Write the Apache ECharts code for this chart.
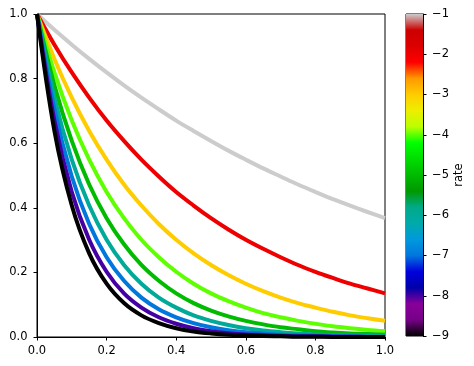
<!DOCTYPE html>
<html>
<head>
<meta charset="utf-8">
<script src="https://cdn.jsdelivr.net/npm/echarts@6/dist/echarts.min.js"></script>
<style>html,body{margin:0;padding:0;background:#fff;}#c{width:474px;height:366px;}</style>
</head>
<body>
<div id="c"></div>
<script>
// x positions
var xs = [0.00,0.05,0.10,0.15,0.20,0.25,0.30,0.35,0.40,0.45,0.50,0.55,0.60,0.65,0.70,0.75,0.80,0.85,0.90,0.95,1.00];
// rates (colour values)
var rates = [-1,-2,-3,-4,-5,-6,-7,-8,-9];
// curve values
var yRate1 = [1.000,0.951,0.905,0.861,0.819,0.779,0.741,0.705,0.670,0.638,0.607,0.577,0.549,0.522,0.497,0.472,0.449,0.427,0.407,0.387,0.368];
var yRate2 = [1.000,0.905,0.819,0.741,0.670,0.607,0.549,0.497,0.449,0.407,0.368,0.333,0.301,0.273,0.247,0.223,0.202,0.183,0.165,0.150,0.135];
var yRate3 = [1.000,0.861,0.741,0.638,0.549,0.472,0.407,0.350,0.301,0.259,0.223,0.192,0.165,0.142,0.122,0.105,0.091,0.078,0.067,0.058,0.050];
var yRate4 = [1.000,0.819,0.670,0.549,0.449,0.368,0.301,0.247,0.202,0.165,0.135,0.111,0.091,0.074,0.061,0.050,0.041,0.033,0.027,0.022,0.018];
var yRate5 = [1.000,0.779,0.607,0.472,0.368,0.287,0.223,0.174,0.135,0.105,0.082,0.064,0.050,0.039,0.030,0.024,0.018,0.014,0.011,0.009,0.007];
var yRate6 = [1.000,0.741,0.549,0.407,0.301,0.223,0.165,0.122,0.091,0.067,0.050,0.037,0.027,0.020,0.015,0.011,0.008,0.006,0.005,0.003,0.002];
var yRate7 = [1.000,0.705,0.497,0.350,0.247,0.174,0.122,0.086,0.061,0.043,0.030,0.021,0.015,0.011,0.007,0.005,0.004,0.003,0.002,0.001,0.001];
var yRate8 = [1.000,0.670,0.449,0.301,0.202,0.135,0.091,0.061,0.041,0.027,0.018,0.012,0.008,0.006,0.004,0.002,0.002,0.001,0.001,0.000,0.000];
var yRate9 = [1.000,0.638,0.407,0.259,0.165,0.105,0.067,0.043,0.027,0.017,0.011,0.007,0.005,0.003,0.002,0.001,0.001,0.000,0.000,0.000,0.000];
var curves = [yRate1,yRate2,yRate3,yRate4,yRate5,yRate6,yRate7,yRate8,yRate9];
// tick labels
var xTicks = [0.0,0.2,0.4,0.6,0.8,1.0];
var cbTicks = [-9,-8,-7,-6,-5,-4,-3,-2,-1];

// styling: nipy_spectral colours
var lineColors = ['rgb(204,204,204)','rgb(238,0,0)','rgb(255,204,0)','rgb(94,255,0)','rgb(0,187,0)','rgb(0,170,153)','rgb(0,119,221)','rgb(68,0,162)','rgb(0,0,0)'];
var cmap = [[0,0,0],[119,0,136],[136,0,153],[0,0,170],[0,0,221],[0,119,221],[0,153,221],[0,170,170],[0,170,136],[0,153,0],[0,187,0],[0,221,0],[0,255,0],[187,255,0],[238,238,0],[255,204,0],[255,153,0],[255,0,0],[221,0,0],[204,0,0],[204,204,204]];

var FONT = 'DejaVu Sans';
var FS = 11.5;
var chart = echarts.init(document.getElementById('c'), null, {renderer:'canvas'});

var series = curves.map(function(arr, i){
  return {
    type:'line', xAxisIndex:0, yAxisIndex:0,
    data: arr.map(function(v,k){ return [xs[k], v]; }),
    showSymbol:false, symbol:'none', smooth:0.35,
    lineStyle:{width:4, color:lineColors[i]}, color:lineColors[i],
    z: 2 + i, clip:true, silent:true
  };
});

var stops = cmap.map(function(c, i){
  var norm = i/(cmap.length-1);
  return {offset: 1 - norm, color: 'rgb('+c[0]+','+c[1]+','+c[2]+')'};
}).reverse();

series.push({
  type:'custom', xAxisIndex:1, yAxisIndex:1,
  data:[[cbTicks[cbTicks.length-1], cbTicks[0]]],
  renderItem:function(params, api){
    var p1 = api.coord([0, api.value(0)]);
    var p2 = api.coord([1, api.value(1)]);
    return {
      type:'rect',
      shape:{x:p1[0], y:p1[1], width:p2[0]-p1[0], height:p2[1]-p1[1]},
      style:{fill:new echarts.graphic.LinearGradient(0,0,0,1,stops)}
    };
  },
  silent:true, z:1
});

var axisCommon = {
  axisLine:{show:true, onZero:false, lineStyle:{color:'#000', width:1}},
  axisTick:{show:true, inside:false, length:3.5, lineStyle:{color:'#000', width:1}},
  axisLabel:{color:'#000', fontFamily:FONT, fontSize:FS, margin:9},
  splitLine:{show:false}
};

chart.setOption({
  animation:false,
  backgroundColor:'#fff',
  grid:[
    {left:37, right:89, top:14, bottom:29, show:true, borderColor:'#000', borderWidth:1, backgroundColor:'transparent'},
    {left:406, right:51, top:14, bottom:30, show:true, borderColor:'#000', borderWidth:1, backgroundColor:'transparent'}
  ],
  xAxis:[
    Object.assign({}, axisCommon, {type:'value', gridIndex:0, min:0, max:1, interval:0.2,
      axisLabel:Object.assign({}, axisCommon.axisLabel, {margin:8, formatter:function(v){return v.toFixed(1);}})}),
    {type:'value', gridIndex:1, min:0, max:1, show:false}
  ],
  yAxis:[
    Object.assign({}, axisCommon, {type:'value', gridIndex:0, min:0, max:1, interval:0.2,
      axisLabel:Object.assign({}, axisCommon.axisLabel, {margin:9.5, formatter:function(v){return v.toFixed(1);}})}),
    Object.assign({}, axisCommon, {type:'value', gridIndex:1, min:-9, max:-1, interval:1, position:'right',
      name:'rate', nameLocation:'middle', nameRotate:90, nameGap:30,
      nameTextStyle:{color:'#000', fontFamily:FONT, fontSize:FS},
      axisLabel:Object.assign({}, axisCommon.axisLabel, {margin:9, formatter:function(v){return v < 0 ? '\u2212' + Math.abs(v) : String(v);}})})
  ],
  series:series
});
</script>
</body>
</html>
